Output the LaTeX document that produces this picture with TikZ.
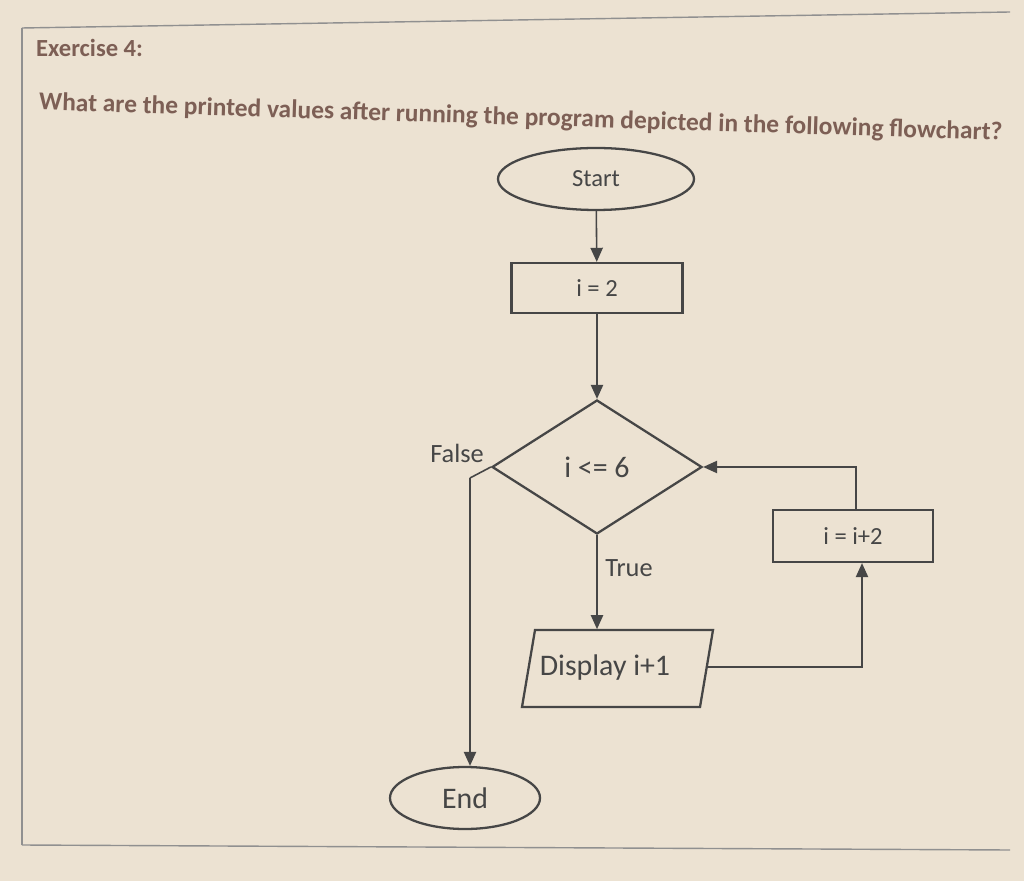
\documentclass[tikz,border=0pt]{standalone}
\usepackage{fontspec}
\setmainfont{Carlito}
\usetikzlibrary{shapes.geometric,arrows.meta}
\definecolor{paper}{RGB}{236,226,210}
\definecolor{ink}{RGB}{70,70,70}
\definecolor{title}{RGB}{125,95,85}
\begin{document}
\begin{tikzpicture}[x=0.02cm,y=-0.02cm,
  box/.style={draw=ink,line width=1.3pt,fill=paper,font=\fontsize{14}{16}\selectfont,text=ink},
  conn/.style={draw=ink,line width=0.9pt,-{Triangle[length=8pt,width=7pt]}},
  lbl/.style={font=\fontsize{15}{17}\selectfont,text=ink}]
\fill[paper] (0,0) rectangle (1024,881);
\useasboundingbox (0,0) rectangle (1024,881);
\draw[ink!60,line width=0.8pt] (22,28) -- (1010,12);
\draw[ink!60,line width=0.8pt] (22,28) -- (22,845);
\draw[ink!60,line width=0.8pt] (22,845) -- (1010,850);
\node[anchor=west,font=\bfseries\fontsize{14}{16}\selectfont,text=title] (ex) at (30,48) {Exercise 4:};
\node[anchor=west,rotate=-1.8,font=\bfseries\fontsize{14.5}{16}\selectfont,text=title] (q) at (33,103)
  {What are the printed values after running the program depicted in the following flowchart?};
\node[box,ellipse,minimum width=196*0.02cm,minimum height=62*0.02cm] (start) at (596,179) {Start};
\node[box,rectangle,minimum width=171*0.02cm,minimum height=50*0.02cm] (init) at (597,288) {i = 2};
\node[box,diamond,aspect=1.57,minimum width=210*0.02cm,minimum height=134*0.02cm,inner sep=0pt,font=\fontsize{17}{19}\selectfont] (cond) at (597,467) {i <= 6};
\draw[ink,line width=1.3pt,fill=paper] (522,707) -- (535,630) -- (713,630) -- (700,707) -- cycle;
\node[font=\fontsize{17}{19}\selectfont,text=ink,minimum width=170*0.02cm,minimum height=77*0.02cm] (disp) at (605,668) {Display i+1};
\node[box,rectangle,minimum width=160*0.02cm,minimum height=52*0.02cm] (inc) at (853,536) {i = i+2};
\node[box,ellipse,minimum width=150*0.02cm,minimum height=62*0.02cm,font=\fontsize{17}{19}\selectfont] (end) at (465,798) {End};
\node[lbl] (f) at (457,453) {False};
\node[lbl] (t) at (629,568) {True};
\coordinate (fc) at (470,478);
\coordinate (rc) at (862,667);
\coordinate (tc) at (856,467);
\coordinate (dr) at (707,667);
\draw[conn] (start) -- (init);
\draw[conn] (init) -- (cond);
\draw[conn] (cond) -- (disp.north -| cond.south);
\draw[conn] (dr) -- (rc) -- (inc.south -| rc);
\draw[conn] (inc.north -| tc) -- (tc) -- (cond.east);
\draw[ink,line width=0.9pt] (cond.west) -- (fc);
\draw[conn] (fc) -- (end.north -| fc);
\end{tikzpicture}
\end{document}
